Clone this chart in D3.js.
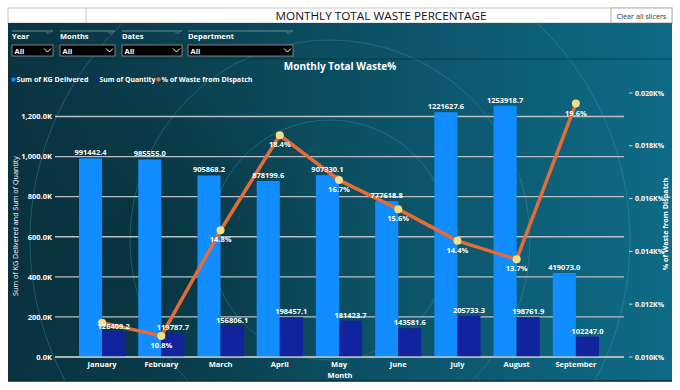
<!DOCTYPE html>
<html><head><meta charset="utf-8">
<script src="https://cdn.jsdelivr.net/npm/d3@7/dist/d3.min.js"></script>
<style>
html,body{margin:0;padding:0;background:#fff;}
svg{display:block;font-family:"Open Sans","Noto Sans",sans-serif;}
</style></head>
<body><svg id="c" width="680" height="390"></svg>
<script>
const months = ["January","February","March","April","May","June","July","August","September"];
const kgDelivered = [991442.4,985555.0,905868.2,878199.6,907330.1,777618.8,1221627.6,1253918.7,419073.0];
const quantity = [126409.2,119787.7,156806.1,198457.1,181423.7,143581.6,205733.3,198761.9,102247.0];
const wastePct = [11.3,10.8,14.8,18.4,16.7,15.6,14.4,13.7,19.6];
const showPctLabel = [false,true,true,true,true,true,true,true,true];
const leftTicks = [0,200000,400000,600000,800000,1000000,1200000];
const rightTicks = [10,12,14,16,18,20];
const seriesNames = ["Sum of KG Delivered","Sum of Quantity","% of Waste from Dispatch"];
const slicerNames = ["Year","Months","Dates","Department"];

const svg = d3.select("#c");
const defs = svg.append("defs");
const g1 = defs.append("linearGradient").attr("id","bg").attr("x1","0").attr("x2","1").attr("y1","0").attr("y2","0");
g1.append("stop").attr("offset","0").attr("stop-color","#0a3340");
g1.append("stop").attr("offset","0.35").attr("stop-color","#0b4656");
g1.append("stop").attr("offset","0.7").attr("stop-color","#0d5a71");
g1.append("stop").attr("offset","1").attr("stop-color","#0f6b86");
const g2 = defs.append("radialGradient").attr("id","dk").attr("cx","0.5").attr("cy","0.5").attr("r","0.5");
g2.append("stop").attr("offset","0").attr("stop-color","#06262f").attr("stop-opacity",0.45);
g2.append("stop").attr("offset","1").attr("stop-color","#06262f").attr("stop-opacity",0);
defs.append("clipPath").attr("id","pc").append("rect").attr("x",8).attr("y",23).attr("width",664).attr("height",358);

// header
svg.append("rect").attr("x",8).attr("y",8).attr("width",664).attr("height",15).attr("fill","#fff").attr("stroke","#c8c8c8");
svg.append("line").attr("x1",86).attr("x2",86).attr("y1",8).attr("y2",23).attr("stroke","#c8c8c8");
svg.append("text").attr("x",381).attr("y",20).attr("text-anchor","middle").attr("font-size",11.5).attr("fill","#111")
  .attr("textLength",211).attr("lengthAdjust","spacingAndGlyphs").text("MONTHLY TOTAL WASTE PERCENTAGE");
svg.append("rect").attr("x",611).attr("y",8).attr("width",61).attr("height",15).attr("fill","#fff").attr("stroke","#b0b0b0");
svg.append("text").attr("x",641.5).attr("y",18.5).attr("text-anchor","middle").attr("font-size",7.2).attr("fill","#333").text("Clear all slicers");

// panel
const panel = svg.append("g").attr("clip-path","url(#pc)");
panel.append("rect").attr("x",8).attr("y",23).attr("width",664).attr("height",358).attr("fill","url(#bg)");
panel.append("circle").attr("cx",150).attr("cy",250).attr("r",190).attr("fill","url(#dk)");
[[330,240,120],[330,240,200],[330,240,300]].forEach(c=>{
  panel.append("circle").attr("cx",c[0]).attr("cy",c[1]).attr("r",c[2]).attr("fill","none")
    .attr("stroke","#3fa3bd").attr("stroke-opacity",0.35).attr("stroke-width",1);
});
svg.append("line").attr("x1",8).attr("x2",672).attr("y1",59).attr("y2",59).attr("stroke","#07303b").attr("stroke-opacity",0.7);
svg.append("line").attr("x1",8).attr("x2",672).attr("y1",381).attr("y2",381).attr("stroke","#062a35").attr("stroke-width",1.5);

// slicers
const slX = [12,60,122,188], slW = [41,55,60,105];
slicerNames.forEach((n,i)=>{
  const x = slX[i], w = slW[i];
  svg.append("line").attr("x1",x).attr("x2",x+w).attr("y1",31).attr("y2",31).attr("stroke","#6f8a93").attr("stroke-width",1);
  svg.append("path").attr("d",`M${x+w-7},31.5 l2.5,2.5 l2.5,-2.5`).attr("fill","none").attr("stroke","#6f8a93").attr("stroke-width",0.8);
  svg.append("text").attr("x",x).attr("y",39).attr("font-size",7.5).attr("font-weight","bold").attr("fill","#fff").text(n);
  svg.append("rect").attr("x",x).attr("y",45).attr("width",w).attr("height",11).attr("fill","#000").attr("stroke","#9a9a9a").attr("stroke-width",0.8);
  svg.append("text").attr("x",x+2.5).attr("y",53.5).attr("font-size",7.5).attr("font-weight","bold").attr("fill","#fff").text("All");
  svg.append("path").attr("d",`M${x+w-9},48.5 l3.5,3.5 l3.5,-3.5`).attr("fill","none").attr("stroke","#fff").attr("stroke-width",1);
});

// chart
svg.append("text").attr("x",340).attr("y",70).attr("text-anchor","middle").attr("font-size",10).attr("font-weight","bold").attr("fill","#fff").text("Monthly Total Waste%");
const legColors = ["#118DFF","#12239E","#E66C37"];
const legX = [12,95,157], legW = [72,56,91];
seriesNames.forEach((n,i)=>{
  svg.append("circle").attr("cx",legX[i]+1.5).attr("cy",79.5).attr("r",2.2).attr("fill",legColors[i]);
  svg.append("text").attr("x",legX[i]+4.5).attr("y",82.3).attr("font-size",7.2).attr("font-weight","bold").attr("fill","#fff")
    .attr("textLength",legW[i]).attr("lengthAdjust","spacingAndGlyphs").text(n);
});

const x = d3.scaleBand().domain(months).range([72.5,605.5]).paddingInner(0.22).paddingOuter(0.11);
const yL = d3.scaleLinear().domain([0,1200000]).range([357,116.5]);
const yR = d3.scaleLinear().domain([10,20]).range([357,93]);
const bw = x.bandwidth()/2;

// gridlines
svg.append("g").selectAll("line").data(leftTicks).join("line")
  .attr("x1",55).attr("x2",624).attr("y1",d=>yL(d)).attr("y2",d=>yL(d))
  .attr("stroke","#b9bfc2").attr("stroke-width",1.4);
// left axis labels
const fmtK = d=>d3.format(",.1f")(d/1000)+"K";
svg.append("g").selectAll("text").data(leftTicks).join("text")
  .attr("x",52).attr("y",d=>yL(d)+2.8).attr("text-anchor","end").attr("font-size",7.5).attr("font-weight","bold").attr("fill","#fff").text(fmtK);
// right axis labels
const rg = svg.append("g");
rg.selectAll("line").data(rightTicks).join("line").attr("x1",629).attr("x2",632.5).attr("y1",d=>yR(d)).attr("y2",d=>yR(d)).attr("stroke","#d8dde0").attr("stroke-width",1);
rg.selectAll("text").data(rightTicks).join("text").attr("x",635).attr("y",d=>yR(d)+2.6).attr("font-size",7).attr("font-weight","bold").attr("fill","#fff")
  .text(d=>d3.format(".3f")(d/1000)+"K%");

// bars
svg.append("g").selectAll("rect").data(kgDelivered).join("rect")
  .attr("x",(d,i)=>x(months[i])).attr("width",bw).attr("y",d=>yL(d)).attr("height",d=>yL(0)-yL(d)).attr("fill","#118DFF");
svg.append("g").selectAll("rect").data(quantity).join("rect")
  .attr("x",(d,i)=>x(months[i])+bw).attr("width",bw).attr("y",d=>yL(d)).attr("height",d=>yL(0)-yL(d)).attr("fill","#12239E");
// baseline
svg.append("line").attr("x1",55).attr("x2",624).attr("y1",yL(0)).attr("y2",yL(0)).attr("stroke","#b9bfc2").attr("stroke-width",1.4);

// line
const cx = i=>x(months[i])+x.bandwidth()/2;
svg.append("path").datum(wastePct).attr("fill","none").attr("stroke","#E66C37").attr("stroke-width",3.5).attr("stroke-linejoin","round")
  .attr("d",d3.line().x((d,i)=>cx(i)).y(d=>yR(d)));
svg.append("g").selectAll("circle").data(wastePct).join("circle")
  .attr("cx",(d,i)=>cx(i)).attr("cy",d=>yR(d)).attr("r",4).attr("fill","#F3DE8A");

// bar labels
const lblStyle = s=>s.attr("font-size",7.5).attr("font-weight","bold").attr("fill","#fff").attr("text-anchor","middle");
svg.append("g").selectAll("text").data(kgDelivered).join("text").call(lblStyle)
  .attr("x",(d,i)=>x(months[i])+bw/2).attr("y",d=>yL(d)-3).text(d=>d3.format(".1f")(d));
svg.append("g").selectAll("text").data(quantity).join("text").call(lblStyle)
  .attr("x",(d,i)=>x(months[i])+bw*1.5).attr("y",d=>yL(d)-3).text(d=>d3.format(".1f")(d));
svg.append("g").selectAll("text").data(wastePct).join("text").call(lblStyle)
  .attr("display",(d,i)=>showPctLabel[i]?null:"none")
  .attr("x",(d,i)=>cx(i)).attr("y",d=>yR(d)+12).text(d=>d3.format(".1f")(d)+"%");

// x axis labels
svg.append("g").selectAll("text").data(months).join("text").call(lblStyle)
  .attr("x",d=>x(d)+x.bandwidth()/2).attr("y",367).text(d=>d);
svg.append("text").attr("x",340).attr("y",378).attr("text-anchor","middle").attr("font-size",7.5).attr("font-weight","bold").attr("fill","#fff").text("Month");
// axis titles
svg.append("text").attr("transform","translate(17.5,226) rotate(-90)").attr("text-anchor","middle").attr("font-size",7.2).attr("fill","#fff").text("Sum of KG Delivered and Sum of Quantity");
svg.append("text").attr("transform","translate(668,224) rotate(-90)").attr("text-anchor","middle").attr("font-size",7.2).attr("font-weight","bold").attr("fill","#fff").text("% of Waste from Dispatch");
</script></body></html>
